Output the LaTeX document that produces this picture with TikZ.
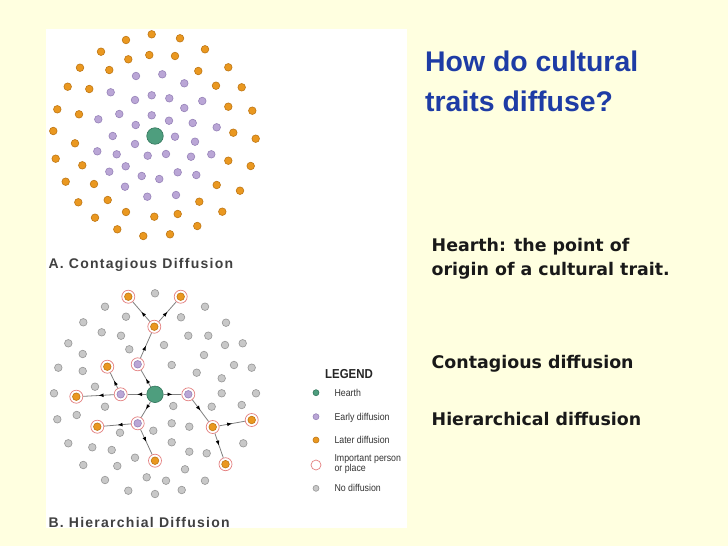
\documentclass[tikz,border=0pt]{standalone}
\usepackage{fontspec}
\setmainfont{Liberation Sans}
\newfontfamily\bodyfont{DejaVu Sans}
\newfontfamily\capfont{Liberation Sans}[LetterSpace=9]
\newfontfamily\legendfont{Liberation Sans}[FakeStretch=0.88]
\usetikzlibrary{arrows.meta,decorations.markings}

% Colours of the slide
\definecolor{slidecream}{RGB}{255,255,224}
\definecolor{titleblue}{RGB}{30,60,165}
\definecolor{laterfill}{RGB}{234,152,32}
\definecolor{laterline}{RGB}{190,118,20}
\definecolor{earlyfill}{RGB}{186,166,214}
\definecolor{earlyline}{RGB}{150,130,184}
\definecolor{hearthfill}{RGB}{78,158,126}
\definecolor{hearthline}{RGB}{50,118,92}
\definecolor{nofill}{RGB}{200,200,200}
\definecolor{noline}{RGB}{150,150,150}
\definecolor{ringred}{RGB}{228,128,128}
\definecolor{edgegrey}{RGB}{128,128,128}

\tikzset{
  dot/.style={circle, inner sep=0pt, minimum size=7.6pt, line width=0.6pt},
  later/.style={dot, fill=laterfill, draw=laterline},
  early/.style={dot, fill=earlyfill, draw=earlyline},
  nodiff/.style={dot, fill=nofill, draw=noline},
  hearth/.style={dot, minimum size=16.5pt, fill=hearthfill, draw=hearthline},
  ringed/.style={circle, inner sep=0pt, minimum size=13pt, fill=white, draw=ringred, line width=0.7pt,
    path picture={\filldraw[fill=#1fill, draw=#1line, line width=0.6pt]
      (path picture bounding box.center) circle (3.8pt);}},
  midarrow/.style={draw=edgegrey, line width=0.8pt, postaction={decorate},
    decoration={markings, mark=at position 0.5 with {\arrow[black]{Latex[length=5pt,width=3.8pt]}}}},
  bodytext/.style={anchor=base west, font=\bodyfont\bfseries\fontsize{17.4}{20}\selectfont, text=black!90},
  titletext/.style={anchor=base west, font=\bfseries\fontsize{28.4}{34}\selectfont, text=titleblue},
  captext/.style={anchor=base west, font=\capfont\bfseries\fontsize{14}{16}\selectfont, text=black!75},
  legendtext/.style={anchor=base west, font=\legendfont\fontsize{10}{9}\selectfont, text=black!80, inner sep=0pt},
}

\begin{document}
\begin{tikzpicture}[x=1pt,y=-1pt]

    % Slide background and the white figure panel
    \fill[slidecream] (0,0) rectangle (728,546);
    \useasboundingbox (0,0) rectangle (728,546);
    \fill[white] (46,29) rectangle (407,528);

    % A. Contagious diffusion: later (outer) dots
    \foreach \x/\y [count=\i] in {151.7/34.3, 126/40, 180/38.3, 101/51.7, 205/49.3, 128.3/59.3, 149.3/55,
        175/56, 80/67.7, 109.3/70, 198.3/71, 228.3/67.3, 67.7/86.7, 89.3/89, 216/85.7, 241.7/87.3,
        57.3/109.3, 79/114.3, 228.3/106.7, 252.3/110.7, 53.3/131, 233.3/132.7, 255.7/138.7, 75/143.3,
        55.7/158.7, 82.3/165.3, 228.3/160.7, 250.7/166, 65.7/181.7, 94/184, 216.7/185, 240/190.7,
        78.3/202.3, 107.7/200, 199.3/201.7, 222.3/211.7, 95/217.7, 126/212, 154.3/216.7, 177.7/214,
        197.3/226, 117.3/229.3, 143.3/236, 170/234.3}
        \node[later] (laterA\i) at (\x,\y) {};

    % A. Contagious diffusion: early (inner) dots
    \foreach \x/\y [count=\i] in {136/76, 162.3/74.3, 184.3/83.3, 110.7/92.3, 135/100, 151.7/95.3,
        169.3/98.3, 202.3/101, 119.3/114, 184.3/108, 98.3/119.3, 151.7/115.3, 169/120.7, 192.7/123,
        135.7/125, 216.7/127.3, 112.7/136, 175/136.7, 195/141.7, 135/144, 97.3/151.3, 116.7/154.3,
        147.7/155.7, 166/154, 191/156.7, 211.3/154.3, 125.7/166.3, 109.3/171.7, 177.7/172.3,
        196.3/175, 141.7/176, 159.3/179, 125/186.7, 147.3/196.7, 176/195}
        \node[early] (earlyA\i) at (\x,\y) {};

    % A. Contagious diffusion: hearth
    \node[hearth] (hearthA) at (155,136) {};

    % Caption of diagram A
    \node[captext, inner sep=0pt] (capA) at (48.3,268.3) {A. Contagious Diffusion};

    % B. Hierarchical diffusion: places that the trait does not reach
    \foreach \x/\y [count=\i] in {155/293.3, 105/306.7, 205/306.7, 126/316.7, 181/317.3, 83.3/322.3,
        226/322.7, 101.7/332.3, 121/335.7, 188.3/335.7, 208.3/335.7, 68.3/343.3, 164/345, 225/345,
        242.7/343.3, 129.3/349.3, 82.7/354, 204/355, 58.3/367.7, 82.7/371, 171.7/365, 234/365,
        251.7/367.7, 196.7/372.7, 221.7/378.3, 95/386.7, 54/393.3, 221.7/393.3, 256/393.3,
        105/406.7, 173.3/406, 211.7/406.7, 241.7/405, 76.7/415, 57.3/419.3, 171.7/423.3,
        189.3/426.7, 120/432.7, 153.3/430.7, 68.3/443.3, 92.3/447.3, 111.7/450, 171.7/442.3,
        189.3/451.7, 206.7/453.3, 243.3/443.3, 135/457.7, 83.3/465, 117.3/466, 185/469.3,
        105/480, 146.7/477.3, 166/480.7, 205/480.7, 128.3/490.7, 155/494, 181.7/490}
        \node[nodiff] (noB\i) at (\x,\y) {};

    % B. Hierarchical diffusion: hearth and important places
    \node[hearth] (hearthB) at (155,394.3) {};
    \node[ringed=early] (earlyB1) at (137.7,364.3) {};   % up left
    \node[ringed=early] (earlyB2) at (120.7,394.3) {};   % left
    \node[ringed=early] (earlyB3) at (137.7,423.3) {};   % down left
    \node[ringed=early] (earlyB4) at (188.3,394.3) {};   % right
    \node[ringed=later] (laterB1) at (154.3,326.7) {};
    \node[ringed=later] (laterB2) at (128.3,296.7) {};
    \node[ringed=later] (laterB3) at (180.7,296.7) {};
    \node[ringed=later] (laterB4) at (107.3,366.7) {};
    \node[ringed=later] (laterB5) at (76.3,396.7) {};
    \node[ringed=later] (laterB6) at (97.3,426.7) {};
    \node[ringed=later] (laterB7) at (155,460.7) {};
    \node[ringed=later] (laterB8) at (212.7,427) {};
    \node[ringed=later] (laterB9) at (251.7,420) {};
    \node[ringed=later] (laterB10) at (225.5,464.2) {};

    % Spread of the trait down the hierarchy
    \foreach \a/\b in {hearthB/earlyB1, hearthB/earlyB2, hearthB/earlyB3, hearthB/earlyB4,
        earlyB1/laterB1, laterB1/laterB2, laterB1/laterB3, earlyB2/laterB4, earlyB2/laterB5,
        earlyB3/laterB6, earlyB3/laterB7, earlyB4/laterB8, laterB8/laterB9, laterB8/laterB10}
        \draw[midarrow] (\a) -- (\b);

    % Caption of diagram B
    \node[captext, inner sep=0pt] (capB) at (48.3,527) {B. Hierarchial Diffusion};

    % Legend
    \node[anchor=base west, inner sep=0pt, font=\legendfont\bfseries\fontsize{13}{14}\selectfont, text=black!85]
        (legend) at (325,378.3) {LEGEND};
    \node[dot, minimum size=6pt, fill=hearthfill, draw=hearthline] (keyhearth) at (316,392.7) {};
    \node[dot, minimum size=6pt, fill=earlyfill, draw=earlyline] (keyearly) at (316,416.7) {};
    \node[dot, minimum size=6pt, fill=laterfill, draw=laterline] (keylater) at (316,440) {};
    \node[circle, inner sep=0pt, minimum size=10pt, draw=ringred, line width=0.7pt] (keyring) at (316,465) {};
    \node[dot, minimum size=6pt, fill=nofill, draw=noline] (keyno) at (316,488.3) {};
    \node[legendtext] (txthearth) at (334.3,396) {Hearth};
    \node[legendtext] (txtearly) at (334.3,420) {Early diffusion};
    \node[legendtext] (txtlater) at (334.3,443.3) {Later diffusion};
    \node[legendtext] (txtring) at (334.3,461) {Important person};
    \node[legendtext] (txtplace) at (334.3,471) {or place};
    \node[legendtext] (txtno) at (334.3,491.7) {No diffusion};

    % Question and notes on the right
    \node[titletext, inner sep=0pt] (title1) at (425,71.7) {How do cultural};
    \node[titletext, inner sep=0pt] (title2) at (425,111) {traits diffuse?};
    \node[bodytext, inner sep=0pt] (note1) at (431.5,251.7) {Hearth: the point of};
    \node[bodytext, inner sep=0pt] (note2) at (431.5,275) {origin of a cultural trait.};
    \node[bodytext, inner sep=0pt] (note3) at (431.5,368.3) {Contagious diffusion};
    \node[bodytext, inner sep=0pt] (note4) at (431.5,425) {Hierarchical diffusion};

\end{tikzpicture}
\end{document}
